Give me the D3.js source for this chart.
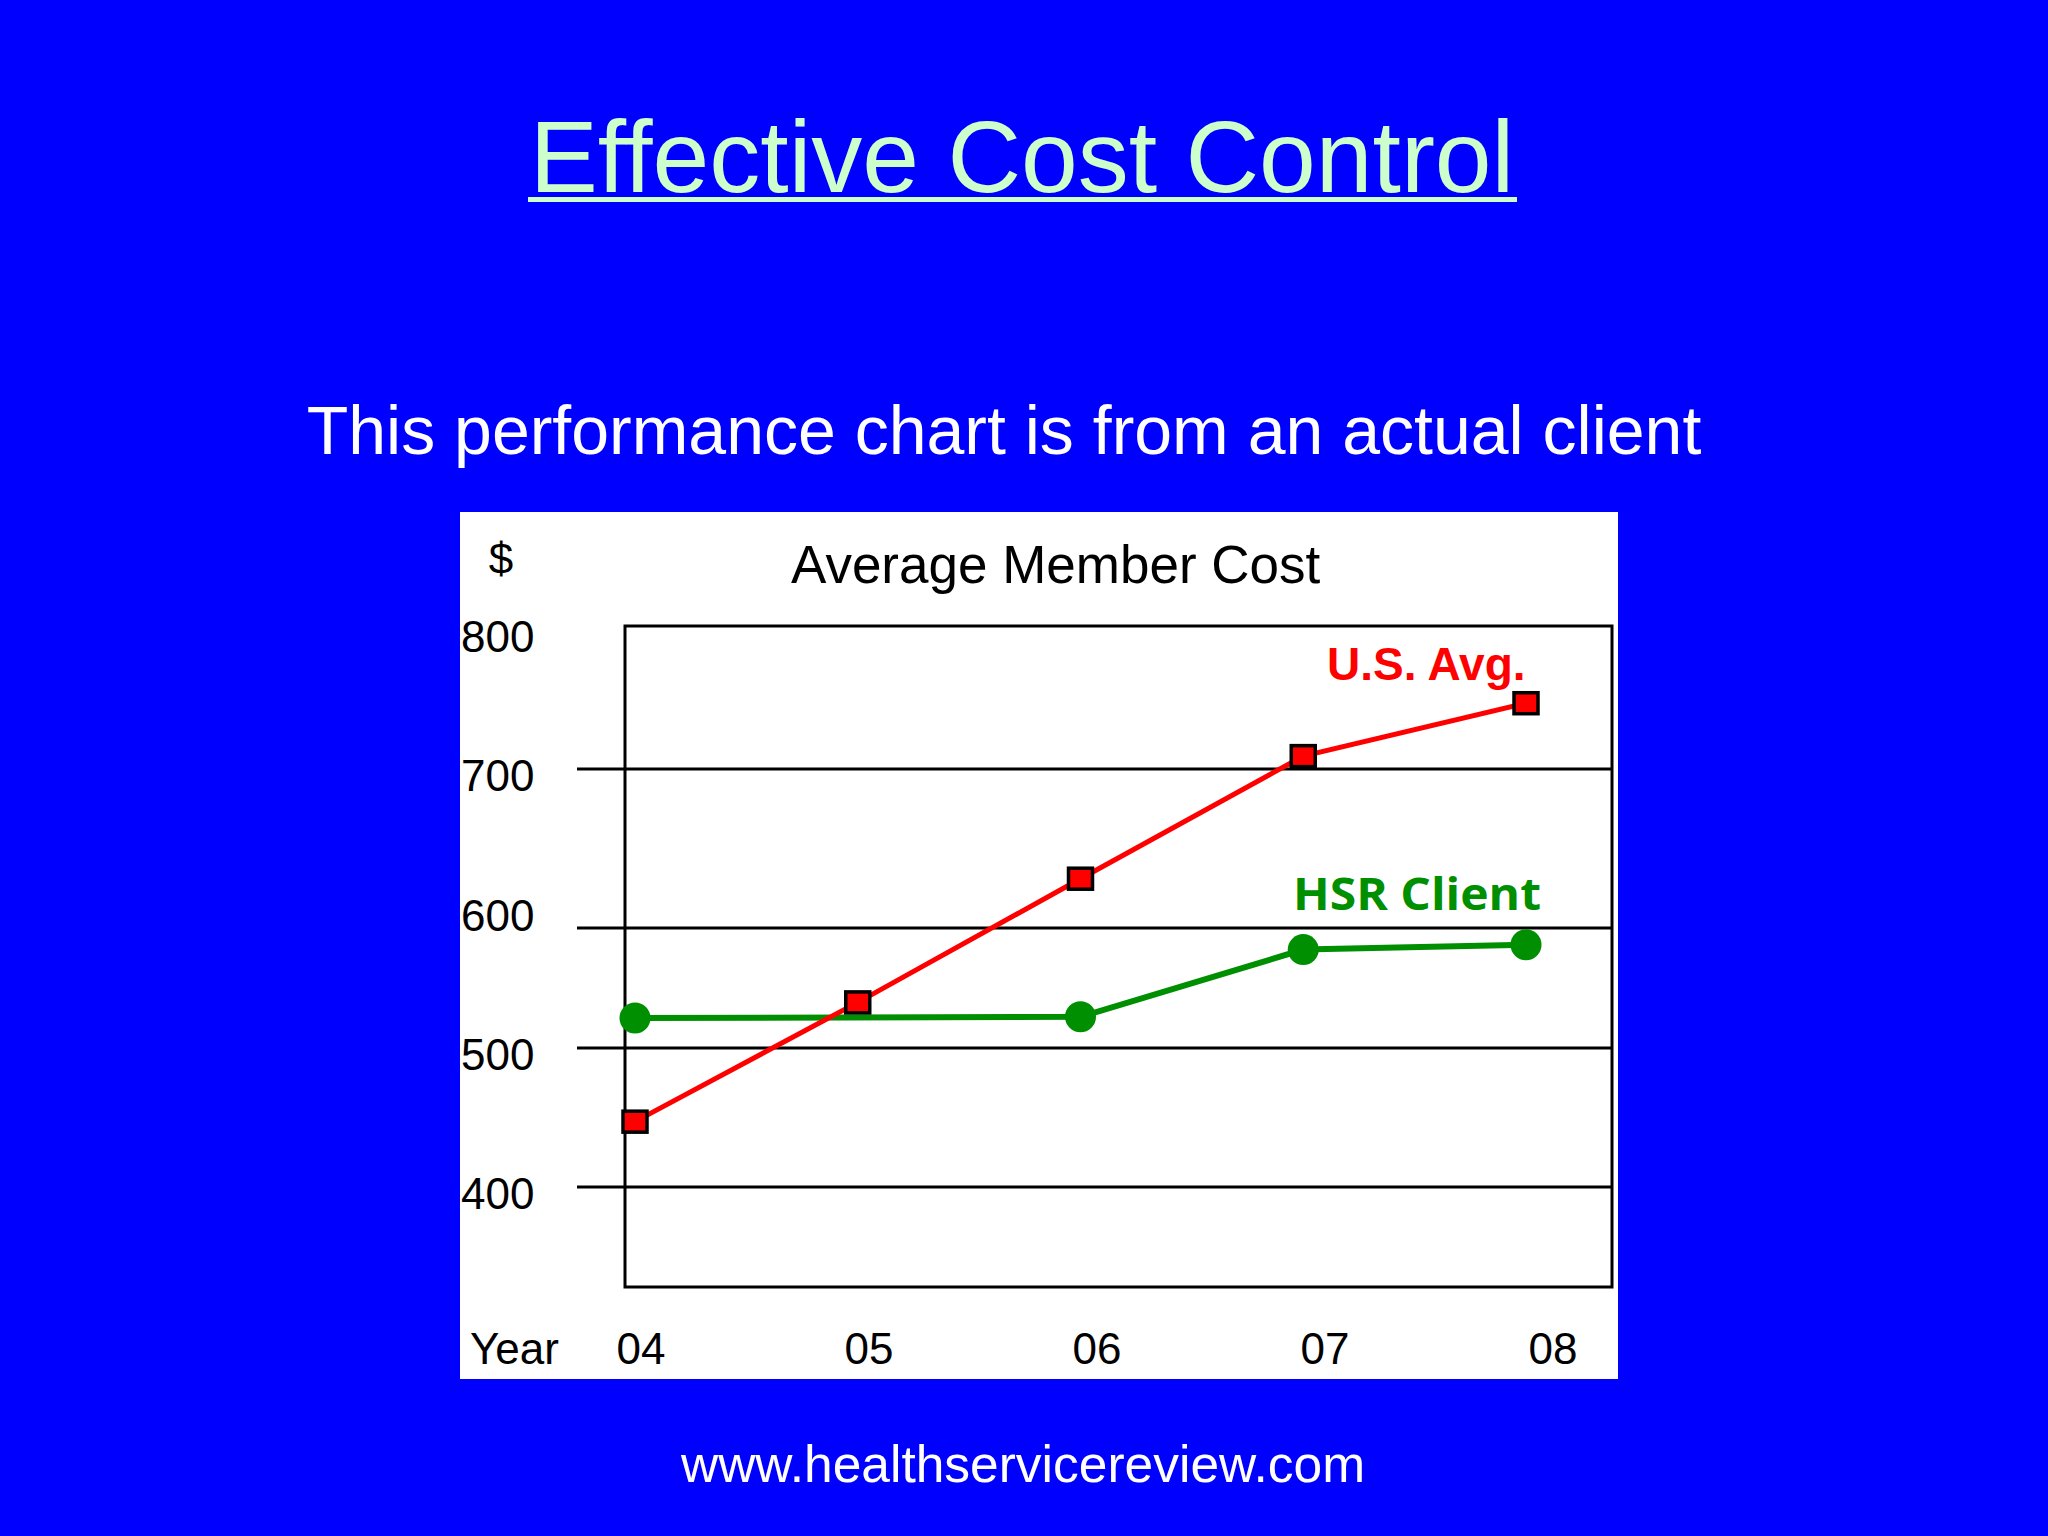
<!DOCTYPE html>
<html>
<head>
<meta charset="utf-8">
<script src="https://cdn.jsdelivr.net/npm/d3@7"></script>
<style>
    html, body { margin: 0; padding: 0; background: #0000ff; }
    svg { display: block; }
</style>
</head>
<body>
<script>

// chart data
var years = ['04', '05', '06', '07', '08'];
var usAvg = [447, 538, 631, 709, 746];
var hsrClient = [525, null, 526, 582, 586];
var yTicks = [400, 500, 600, 700, 800];

var W = 2048,
    H = 1536,
    font = 'Liberation Sans, Arial, sans-serif',
    red = '#ff0000',
    green = '#008f00';

var svg = d3.select('body')
    .append('svg')
    .attr('width', W)
    .attr('height', H);

svg.append('rect')
    .attr('width', W)
    .attr('height', H)
    .attr('fill', '#0000ff');

// slide heading
svg.append('text')
    .attr('x', 1022)
    .attr('y', 192)
    .attr('text-anchor', 'middle')
    .attr('font-family', font)
    .attr('font-size', '102px')
    .attr('fill', '#ccffcc')
    .text('Effective Cost Control');

svg.append('rect')
    .attr('x', 528)
    .attr('y', 197)
    .attr('width', 989)
    .attr('height', 5)
    .attr('fill', '#ccffcc');

svg.append('text')
    .attr('x', 1004)
    .attr('y', 454)
    .attr('text-anchor', 'middle')
    .attr('font-family', font)
    .attr('font-size', '68px')
    .attr('fill', '#ffffff')
    .text('This performance chart is from an actual client');

svg.append('text')
    .attr('x', 1023)
    .attr('y', 1482)
    .attr('text-anchor', 'middle')
    .attr('font-family', font)
    .attr('font-size', '51.5px')
    .attr('fill', '#ffffff')
    .text('www.healthservicereview.com');

// white chart panel
svg.append('rect')
    .attr('x', 460)
    .attr('y', 512)
    .attr('width', 1158)
    .attr('height', 867)
    .attr('fill', '#ffffff');

var frame = { left: 625, right: 1612, top: 626, bottom: 1287 };

// the original grid is not evenly spaced, so break the scale at each tick
var y = d3.scaleLinear()
    .domain(yTicks)
    .range([1187, 1048, 928, 769, 626]);

var yLabel = d3.scaleLinear()
    .domain([400, 800])
    .range([1209, 652]);

var x = d3.scalePoint()
    .domain(years)
    .range([635, 1526]);

var xLabel = d3.scalePoint()
    .domain(years)
    .range([641, 1553]);

var g = svg.append('g');

g.selectAll('.grid')
    .data(yTicks.filter(function(d) { return d < 800; }))
    .enter()
    .append('line')
    .attr('x1', 577)
    .attr('x2', frame.right)
    .attr('y1', function(d) { return y(d); })
    .attr('y2', function(d) { return y(d); })
    .attr('stroke', '#000')
    .attr('stroke-width', 3);

g.append('rect')
    .attr('x', frame.left)
    .attr('y', frame.top)
    .attr('width', frame.right - frame.left)
    .attr('height', frame.bottom - frame.top)
    .attr('fill', 'none')
    .attr('stroke', '#000')
    .attr('stroke-width', 3);

g.selectAll('.ylab')
    .data(yTicks)
    .enter()
    .append('text')
    .attr('x', 461)
    .attr('y', function(d) { return yLabel(d); })
    .attr('font-family', font)
    .attr('font-size', '44px')
    .attr('fill', '#000')
    .text(function(d) { return d; });

g.selectAll('.xlab')
    .data(years)
    .enter()
    .append('text')
    .attr('x', function(d) { return xLabel(d); })
    .attr('y', 1364)
    .attr('text-anchor', 'middle')
    .attr('font-family', font)
    .attr('font-size', '44px')
    .attr('fill', '#000')
    .text(function(d) { return d; });

g.append('text')
    .attr('x', 470)
    .attr('y', 1364)
    .attr('font-family', font)
    .attr('font-size', '44px')
    .text('Year');

g.append('text')
    .attr('x', 501)
    .attr('y', 574)
    .attr('text-anchor', 'middle')
    .attr('font-family', font)
    .attr('font-size', '44px')
    .text('$');

g.append('text')
    .attr('x', 791)
    .attr('y', 583)
    .attr('font-family', font)
    .attr('font-size', '53px')
    .text('Average Member Cost');

// series
var line = d3.line()
    .x(function(d) { return x(d.year); })
    .y(function(d) { return y(d.value); });

var usPts = years.map(function(d, i) { return { year: d, value: usAvg[i] }; });
var hsrPts = years.map(function(d, i) { return { year: d, value: hsrClient[i] }; })
    .filter(function(d) { return d.value !== null; });

g.append('path')
    .attr('d', line(hsrPts))
    .attr('fill', 'none')
    .attr('stroke', green)
    .attr('stroke-width', 6);

g.append('path')
    .attr('d', line(usPts))
    .attr('fill', 'none')
    .attr('stroke', red)
    .attr('stroke-width', 5);

g.selectAll('.hsr')
    .data(hsrPts)
    .enter()
    .append('circle')
    .attr('cx', function(d) { return x(d.year); })
    .attr('cy', function(d) { return y(d.value); })
    .attr('r', 15.5)
    .attr('fill', green);

g.selectAll('.us')
    .data(usPts)
    .enter()
    .append('rect')
    .attr('x', function(d) { return x(d.year) - 12; })
    .attr('y', function(d) { return y(d.value) - 10.5; })
    .attr('width', 24)
    .attr('height', 21)
    .attr('fill', red)
    .attr('stroke', '#000')
    .attr('stroke-width', 3.5);

// series labels
g.append('text')
    .attr('x', 1327)
    .attr('y', 680)
    .attr('font-family', font)
    .attr('font-size', '46px')
    .attr('font-weight', 'bold')
    .attr('fill', red)
    .text('U.S. Avg.');

g.append('text')
    .attr('x', 1293)
    .attr('y', 910)
    .attr('font-family', 'Open Sans, sans-serif')
    .attr('font-size', '44px')
    .attr('font-weight', 'bold')
    .attr('textLength', 248)
    .attr('lengthAdjust', 'spacingAndGlyphs')
    .attr('fill', green)
    .text('HSR Client');

</script>
</body>
</html>
